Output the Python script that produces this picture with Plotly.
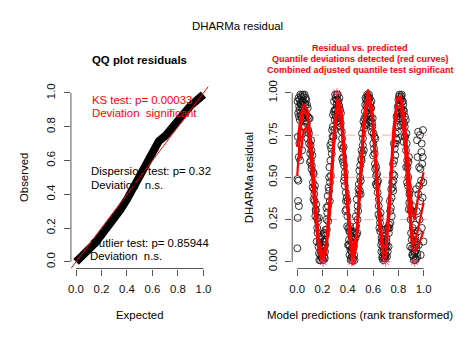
import plotly.graph_objects as go

# ---------------- data ----------------
qq_expected = [0.0, 0.05, 0.10, 0.15, 0.20, 0.25, 0.30, 0.35, 0.40, 0.45, 0.50,
               0.55, 0.60, 0.65, 0.70, 0.75, 0.80, 0.85, 0.90, 0.95, 1.0]
qq_observed = [0.0, 0.035, 0.06, 0.11, 0.16, 0.205, 0.255, 0.31, 0.37, 0.44, 0.52,
               0.59, 0.665, 0.715, 0.745, 0.785, 0.83, 0.88, 0.925, 0.96, 0.99]

pred_a = [0.001,0.002,0.003,0.004,0.005,0.006,0.008,0.009,0.010,0.012,0.013,0.015,0.017,0.019,
          0.021,0.023,0.025,0.027,0.029,0.031,0.033,0.035,0.037,0.039,0.041,0.043,0.045,0.047,0.049]
resid_a = [0.08,0.49,0.95,0.26,0.74,0.36,0.88,0.48,0.97,0.62,0.33,0.92,0.70,0.96,
           0.84,0.60,0.94,0.88,0.98,0.76,0.91,0.97,0.85,0.66,0.93,0.99,0.88,0.95,0.80]

pred_b = [0.052,0.056,0.059,0.063,0.066,0.070,0.073,0.077,0.080,0.084,
          0.087,0.091,0.094,0.098,0.101,0.105,0.108,0.112,0.115,0.119,
          0.122,0.126,0.129,0.133,0.136,0.140,0.143,0.147,0.150,0.154,
          0.157,0.161,0.164,0.168,0.171,0.175,0.178,0.182,0.185,0.189,0.192,0.196]
resid_b = [0.98,0.85,0.94,0.88,0.97,0.83,0.87,0.93,0.73,0.86,
           0.78,0.85,0.70,0.85,0.59,0.69,0.60,0.66,0.57,0.63,
           0.44,0.53,0.37,0.43,0.36,0.45,0.27,0.30,0.34,0.12,
           0.26,0.17,0.24,0.09,0.26,0.01,0.13,0.04,0.14,0.06,0.15,0.02]

pred_c = [0.199,0.203,0.206,0.210,0.213,0.217,0.220,0.224,0.227,0.231,
          0.234,0.238,0.241,0.245,0.248,0.252,0.255,0.259,0.262,0.266,
          0.269,0.273,0.276,0.280,0.283,0.287,0.290,0.294,0.297,0.301,
          0.304,0.308,0.311,0.314]
resid_c = [0.02,0.12,0.06,0.17,0.03,0.17,0.06,0.19,0.16,0.32,
           0.19,0.29,0.39,0.24,0.44,0.42,0.56,0.47,0.69,0.51,
           0.67,0.64,0.78,0.74,0.87,0.74,0.89,0.78,0.90,0.87,
           0.97,0.86,0.93,0.99]

pred_d = [0.318,0.321,0.325,0.328,0.332,0.335,0.339,0.342,0.346,0.349,
          0.353,0.356,0.360,0.363,0.367,0.370,0.374,0.377,0.381,0.384,
          0.388,0.391,0.395,0.398,0.402,0.405,0.409,0.412,0.416,0.419,
          0.423,0.426,0.430,0.433]
resid_d = [0.96,0.87,0.95,0.81,0.92,0.83,0.90,0.80,0.88,0.69,
           0.77,0.61,0.67,0.59,0.68,0.48,0.50,0.53,0.30,0.41,
           0.31,0.38,0.21,0.36,0.10,0.20,0.10,0.18,0.09,0.18,
           0.01,0.12,0.03,0.08]

pred_e = [0.436,0.440,0.443,0.447,0.450,0.454,0.457,0.461,0.464,0.468,
          0.471,0.475,0.478,0.482,0.485,0.489,0.492,0.496,0.499,0.503,
          0.506,0.510,0.513,0.517,0.520,0.524,0.527,0.531,0.534,0.538,
          0.541,0.545,0.548,0.552,0.555,0.559,0.562]
resid_e = [0.03,0.17,0.02,0.09,0.17,0.01,0.18,0.14,0.27,0.16,
           0.37,0.17,0.33,0.30,0.43,0.40,0.54,0.42,0.57,0.48,
           0.61,0.60,0.76,0.64,0.73,0.83,0.66,0.85,0.81,0.93,
           0.82,0.96,0.81,0.95,0.88,0.98,0.92]

pred_f = [0.566,0.569,0.573,0.576,0.580,0.583,0.587,0.590,0.594,0.597,
          0.601,0.604,0.608,0.611,0.615,0.618,0.622,0.625,0.629,0.632,
          0.636,0.639,0.643,0.646,0.650,0.653,0.657,0.660,0.664,0.667,
          0.671,0.674,0.678,0.681,0.685,0.688,0.692]
resid_f = [0.97,0.86,0.97,0.83,0.91,0.84,0.95,0.77,0.80,0.85,
           0.63,0.76,0.67,0.74,0.58,0.73,0.46,0.56,0.45,0.52,
           0.41,0.48,0.28,0.37,0.20,0.26,0.18,0.29,0.10,0.14,
           0.19,0.02,0.13,0.06,0.15,0.02,0.19]

pred_g = [0.695,0.699,0.702,0.706,0.709,0.713,0.716,0.720,0.723,0.727,
          0.730,0.734,0.737,0.741,0.744,0.748,0.751,0.755,0.758,0.762,
          0.765,0.769,0.772,0.776,0.779,0.783,0.786,0.790,0.793,0.797,
          0.800,0.804,0.807,0.811,0.814,0.818,0.821]
resid_g = [0.03,0.10,0.04,0.14,0.09,0.20,0.06,0.20,0.09,0.22,
           0.20,0.36,0.23,0.32,0.43,0.27,0.47,0.44,0.58,0.48,
           0.70,0.51,0.67,0.63,0.76,0.73,0.86,0.72,0.87,0.77,
           0.88,0.85,0.98,0.85,0.92,0.97,0.81]

pred_h = [0.825,0.828,0.832,0.835,0.838,0.842,0.845,0.849,0.852,0.855,
          0.859,0.862,0.866,0.869,0.873,0.876,0.880,0.883,0.887,0.890,
          0.894,0.897,0.901,0.904,0.908,0.911,0.915,0.918,0.922,0.925]
resid_h = [0.98,0.89,0.95,0.83,0.93,0.71,0.89,0.74,0.86,0.74,
           0.84,0.56,0.70,0.47,0.56,0.45,0.59,0.31,0.35,0.42,
           0.09,0.31,0.17,0.30,0.08,0.33,0.04,0.15,0.03,0.17]

pred_i = [0.929,0.932,0.935,0.938,0.941,0.944,0.947,0.950,0.953,0.956,
          0.959,0.962,0.965,0.968,0.971,0.974,0.977,0.980,0.983,0.986,
          0.989,0.992,0.995,0.998,0.999,0.948,0.957,0.985,0.993,0.966,0.975]
resid_i = [0.05,0.22,0.01,0.12,0.43,0.08,0.30,0.03,0.62,0.18,
           0.40,0.10,0.56,0.25,0.75,0.36,0.04,0.48,0.65,0.20,
           0.58,0.38,0.78,0.47,0.12,0.72,0.77,0.70,0.62,0.45,0.55]

# extra points in the dense clusters at peaks, troughs and along the flanks
pred_j = [0.014,0.018,0.024,0.028,0.032,0.038,0.044,0.051,0.058,0.062,0.064,0.071,0.076,0.083,
          0.291,0.296,0.300,0.305,0.309,0.313,0.316,0.320,0.324,0.329,0.334,0.338,
          0.536,0.540,0.544,0.549,0.553,0.557,0.561,0.564,0.568,0.572,0.577,0.582,0.586,
          0.796,0.801,0.805,0.809,0.813,0.817,0.820,0.824,0.827,0.831,0.836,0.840,0.846]
resid_j = [0.86,0.90,0.99,0.93,0.86,0.95,0.91,0.89,0.99,0.80,0.93,0.96,0.82,0.91,
           0.95,0.84,0.99,0.90,0.96,0.83,0.91,0.99,0.88,0.93,0.97,0.85,
           0.89,0.97,0.86,0.92,0.99,0.87,0.96,0.90,0.99,0.88,0.94,0.86,0.91,
           0.92,0.96,0.88,0.99,0.93,0.86,0.96,0.91,0.99,0.87,0.95,0.90,0.82]

pred_k = [0.172,0.177,0.183,0.188,0.193,0.198,0.201,0.205,0.209,0.214,0.218,0.222,
          0.410,0.414,0.418,0.421,0.425,0.428,0.431,0.435,0.439,0.442,0.446,0.451,
          0.666,0.670,0.673,0.677,0.680,0.684,0.687,0.690,0.694,0.697,0.701,0.705,0.710,
          0.906,0.910,0.914,0.919,0.923,0.926,0.930,0.934,0.939,0.943,0.949]
resid_k = [0.05,0.11,0.01,0.09,0.03,0.10,0.05,0.01,0.08,0.12,0.02,0.10,
           0.13,0.04,0.21,0.07,0.02,0.15,0.06,0.11,0.01,0.08,0.14,0.04,
           0.06,0.12,0.03,0.09,0.01,0.07,0.13,0.04,0.10,0.02,0.07,0.12,0.03,
           0.13,0.04,0.20,0.08,0.01,0.12,0.06,0.15,0.02,0.10,0.05]

pred_m = [0.093,0.103,0.110,0.113,0.124,0.130,0.135,0.146,0.158,
          0.232,0.243,0.253,0.258,0.263,0.272,0.282,
          0.344,0.355,0.365,0.371,0.376,0.386,0.397,
          0.466,0.477,0.488,0.498,0.502,0.509,0.519,0.529,
          0.592,0.602,0.613,0.617,0.624,0.634,0.645,0.655,
          0.725,0.735,0.746,0.757,0.760,0.767,0.778,0.788,
          0.851,0.861,0.864,0.870,0.879,0.884,0.888,0.898]
resid_m = [0.76,0.64,0.72,0.55,0.47,0.52,0.40,0.31,0.20,
           0.25,0.33,0.50,0.36,0.60,0.71,0.80,
           0.82,0.73,0.62,0.57,0.45,0.36,0.27,
           0.21,0.25,0.46,0.50,0.40,0.66,0.69,0.79,
           0.82,0.70,0.64,0.55,0.51,0.47,0.33,0.23,
           0.17,0.30,0.38,0.52,0.42,0.60,0.70,0.80,
           0.80,0.66,0.76,0.60,0.50,0.62,0.40,0.25]

quant_x = [0.0, 0.025, 0.05, 0.08, 0.11, 0.14, 0.17, 0.20, 0.23, 0.26, 0.29, 0.32,
           0.35, 0.38, 0.41, 0.44, 0.47, 0.50, 0.53, 0.56, 0.59, 0.62, 0.65, 0.68,
           0.70, 0.73, 0.76, 0.79, 0.82, 0.85, 0.88, 0.91, 0.93, 0.96, 1.0]
quant_hi = [0.68, 0.86, 0.93, 0.90, 0.72, 0.40, 0.14, 0.04, 0.12, 0.42, 0.78, 0.97,
            0.90, 0.62, 0.28, 0.04, 0.18, 0.55, 0.88, 1.02, 0.92, 0.65, 0.32, 0.08,
            0.10, 0.40, 0.78, 0.97, 0.98, 0.85, 0.58, 0.30, 0.25, 0.40, 0.53]
quant_mid = [0.51, 0.78, 0.90, 0.86, 0.66, 0.34, 0.10, 0.02, 0.09, 0.36, 0.74, 0.96,
             0.86, 0.55, 0.22, 0.00, 0.14, 0.50, 0.85, 1.00, 0.90, 0.60, 0.26, 0.05,
             0.06, 0.34, 0.74, 0.96, 0.96, 0.78, 0.45, 0.16, 0.10, 0.20, 0.35]
quant_lo = [0.60, 0.62, 0.78, 0.80, 0.58, 0.28, 0.06, 0.00, 0.06, 0.30, 0.68, 0.93,
            0.80, 0.48, 0.16, -0.02, 0.10, 0.44, 0.80, 0.97, 0.86, 0.55, 0.20, 0.02,
            0.03, 0.28, 0.68, 0.92, 0.92, 0.70, 0.35, 0.08, 0.06, 0.10, 0.18]

outlier_x = [0.315, 0.205, 0.432, 0.700, 0.927]
outlier_y = [1.0, 0.0, 0.0, 0.0, 0.0]

quantile_levels = [0.25, 0.5, 0.75]
qq_ticks = [0.0, 0.2, 0.4, 0.6, 0.8, 1.0]
res_yticks = [0.0, 0.25, 0.5, 0.75, 1.0]

pred = (pred_a + pred_b + pred_c + pred_d + pred_e + pred_f + pred_g + pred_h + pred_i
        + pred_j + pred_k + pred_m)
resid = (resid_a + resid_b + resid_c + resid_d + resid_e + resid_f + resid_g + resid_h + resid_i
         + resid_j + resid_k + resid_m)

# ---------------- layout geometry (pixels) ----------------
W, H = 474, 338
FONT = "Liberation Sans, Arial, Helvetica, sans-serif"
FS = 11.4
AX = "#555555"
L_X0, L_X1 = 68.8, 208.2
R_X0, R_X1 = 292.9, 431.1
Y_TOP, Y_BOT = 82.1, 268.9

def fx(p):
    return p / W

def fy(p):
    return 1 - p / H

ydom = [fy(Y_BOT), fy(Y_TOP)]

fig = go.Figure()

# QQ plot
fig.add_trace(go.Scatter(x=qq_expected, y=qq_observed, mode="lines",
                         line=dict(color="black", width=8),
                         xaxis="x", yaxis="y", hoverinfo="skip"))
fig.add_trace(go.Scatter(x=[-0.04, 1.04], y=[-0.04, 1.04], mode="lines",
                         line=dict(color="red", width=1),
                         xaxis="x", yaxis="y", hoverinfo="skip"))

# residual vs predicted
for q in quantile_levels:
    fig.add_trace(go.Scatter(x=[-0.04, 1.04], y=[q, q], mode="lines",
                             line=dict(color="rgba(240,120,120,0.6)", width=1, dash="dash"),
                             xaxis="x2", yaxis="y2", hoverinfo="skip"))
fig.add_trace(go.Scatter(x=pred, y=resid, mode="markers",
                         marker=dict(symbol="circle-open", size=7,
                                     color="rgba(20,20,20,0.85)",
                                     line=dict(width=1)),
                         xaxis="x2", yaxis="y2", hoverinfo="skip"))
for qy in (quant_lo, quant_mid, quant_hi):
    fig.add_trace(go.Scatter(x=quant_x, y=qy, mode="lines",
                             line=dict(color="red", width=2.2),
                             xaxis="x2", yaxis="y2", hoverinfo="skip"))
fig.add_trace(go.Scatter(x=outlier_x, y=outlier_y, mode="markers",
                         marker=dict(symbol="asterisk-open", size=8,
                                     color="rgba(255,40,80,0.8)",
                                     line=dict(width=1)),
                         xaxis="x2", yaxis="y2", hoverinfo="skip"))

tickfont = dict(family=FONT, size=FS, color="#111111")
common = dict(range=[-0.04, 1.04], showgrid=False, zeroline=False, showline=False,
              ticks="outside", ticklen=6, tickcolor=AX, tickwidth=1, tickfont=tickfont,
              fixedrange=True)

fig.update_layout(
    width=W, height=H, margin=dict(l=0, r=0, t=0, b=0),
    paper_bgcolor="white", plot_bgcolor="white", showlegend=False,
    xaxis=dict(domain=[fx(L_X0), fx(L_X1)], anchor="y", tickvals=qq_ticks,
               ticktext=[f"{v:.1f}" for v in qq_ticks], ticklabelstandoff=4, **common),
    yaxis=dict(domain=ydom, anchor="x", tickvals=qq_ticks,
               ticktext=[f"{v:.1f}" for v in qq_ticks], tickangle=-90,
               ticklabelstandoff=4, **common),
    xaxis2=dict(domain=[fx(R_X0), fx(R_X1)], anchor="y2", tickvals=qq_ticks,
                ticktext=[f"{v:.1f}" for v in qq_ticks], ticklabelstandoff=4, **common),
    yaxis2=dict(domain=ydom, anchor="x2", tickvals=res_yticks,
                ticktext=[f"{v:.2f}" for v in res_yticks], tickangle=-90,
                ticklabelstandoff=4, **common),
)

shapes = []
for xa, ya, x0 in (("x", "y", L_X0), ("x2", "y2", R_X0)):
    shapes.append(dict(type="line", xref=xa, yref="paper", x0=0, x1=1,
                       y0=ydom[0], y1=ydom[0], line=dict(color=AX, width=1)))
    shapes.append(dict(type="line", xref="paper", yref=ya, x0=fx(x0), x1=fx(x0),
                       y0=0, y1=1, line=dict(color=AX, width=1)))
fig.update_layout(shapes=shapes)

def ann(text, px, py, size=FS, color="black", bold=False, xanchor="center", angle=0):
    if bold:
        text = f"<b>{text}</b>"
    return dict(text=text, x=fx(px), y=fy(py), xref="paper", yref="paper",
                showarrow=False, xanchor=xanchor, yanchor="middle", textangle=angle,
                font=dict(family=FONT, size=size, color=color))

NB = "\u00a0"
annotations = [
    ann("DHARMa residual", 237, 20),
    ann("QQ plot residuals", (L_X0 + L_X1) / 2, 55, bold=True),
    ann("Residual vs. predicted", (R_X0 + R_X1) / 2, 43, size=9, color="red", bold=True),
    ann("Quantile deviations detected (red curves)", (R_X0 + R_X1) / 2, 54.5, size=9, color="red", bold=True),
    ann("Combined adjusted quantile test significant", (R_X0 + R_X1) / 2, 66, size=9, color="red", bold=True),
    ann("KS test: p= 0.00033", 88, 96, color="red", xanchor="left"),
    ann(f"Deviation{NB} significant", 88, 110, color="red", xanchor="left"),
    ann("Dispersion test: p= 0.32", 87, 169, xanchor="left"),
    ann(f"Deviation{NB} n.s.", 87, 183, xanchor="left"),
    ann("Outlier test: p= 0.85944", 86, 243, xanchor="left"),
    ann(f"Deviation{NB} n.s.", 86, 256.5, xanchor="left"),
    ann("Expected", (L_X0 + L_X1) / 2, 317),
    ann("Model predictions (rank transformed)", (R_X0 + R_X1) / 2, 317),
    ann("Observed", 22, (Y_TOP + Y_BOT) / 2, angle=-90),
    ann("DHARMa residual", 250, (Y_TOP + Y_BOT) / 2, angle=-90),
]
fig.update_layout(annotations=annotations)

fig.write_html("out.html", config={"displayModeBar": False, "staticPlot": True})
